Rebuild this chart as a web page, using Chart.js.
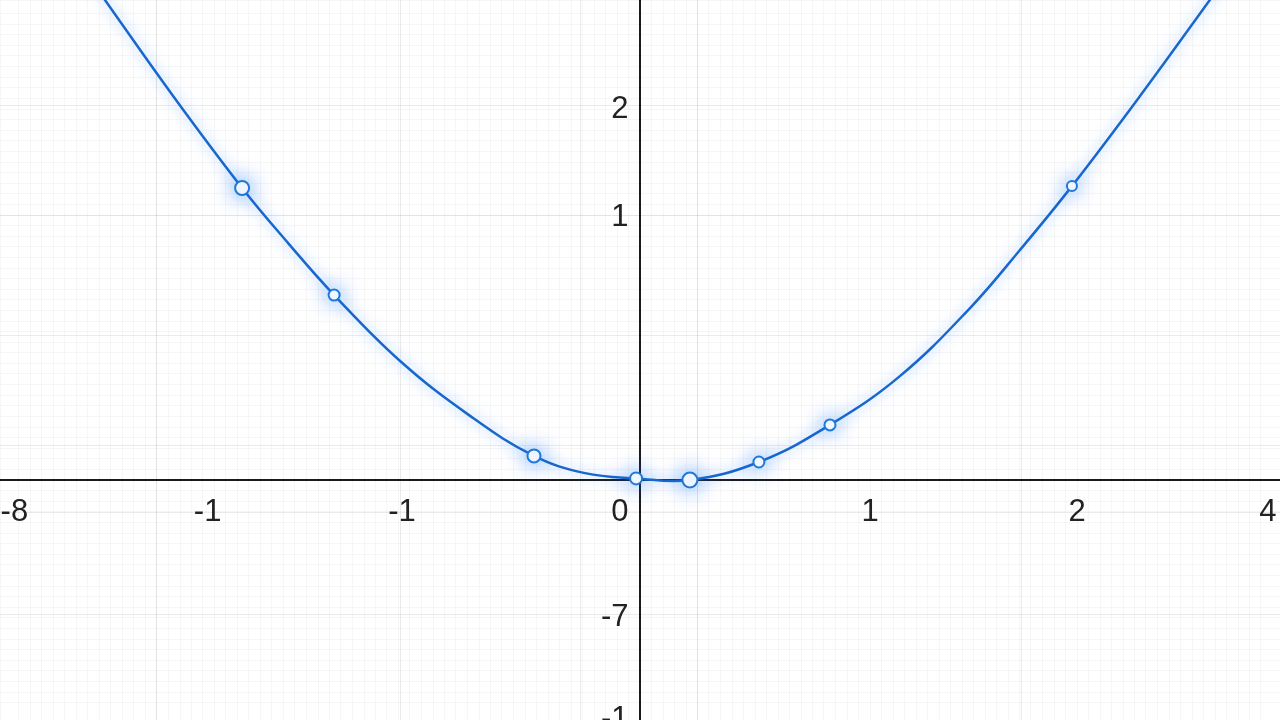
<!DOCTYPE html>
<html>
<head>
<meta charset="utf-8">
<script src="https://cdn.jsdelivr.net/npm/chart.js@4.4.1/dist/chart.umd.min.js"></script>
<style>
  html, body { margin: 0; padding: 0; background: #fff; }
  #wrap { width: 1280px; height: 720px; position: relative; }
</style>
</head>
<body>
<div id="wrap"><canvas id="graph"></canvas></div>
<script>
// curve (x: 230px per unit, y: 265px per unit, origin at the axes)
const curveX = [-2.357, -2.03, -1.73, -1.53, -1.33, -1.043, -0.739, -0.461, -0.239, -0.017, 0.217, 0.517, 0.826, 1.13, 1.435, 1.652, 1.878, 2.174, 2.509];
const curveY = [1.849, 1.449, 1.102, 0.894, 0.698, 0.449, 0.242, 0.091, 0.026, 0.006, 0.0, 0.068, 0.208, 0.392, 0.649, 0.868, 1.109, 1.449, 1.849];

// highlighted points on the curve
const pointX = [-1.73, -1.33, -0.461, -0.017, 0.217, 0.517, 0.826, 1.878];
const pointY = [1.102, 0.698, 0.091, 0.006, 0.0, 0.068, 0.208, 1.109];
const pointSize = [7, 5.5, 6.5, 6, 7.5, 5.5, 5.5, 5];

// axis labels as printed on the picture
const xTickVals = [-2.72, -1.88, -1.035, -0.087, 1, 1.9, 2.73];
const xTickLabels = ['-8', '-1', '-1', '0', '1', '2', '4'];
const yTickVals = [1.40, 0.992, -0.517, -0.905];
const yTickLabels = ['2', '1', '-7', '-1'];

// heavier grid lines (0 = the axes themselves)
const xGridVals = [-2.1, -1.04, -0.26, 0, 0.25, 1.66];
const yGridVals = [1.415, 1.0, 0.547, 0.132, 0, -0.123, -0.509];

const X_MIN = -640 / 230, X_MAX = 640 / 230;
const Y_MIN = -240 / 265, Y_MAX = 480 / 265;

const labelFont = { family: '"Liberation Sans", Arial, sans-serif', size: 31 };

function noSpace(scale) {
    if (scale.isHorizontal()) scale.height = 0; else scale.width = 0;
    scale.paddingLeft = scale.paddingRight = scale.paddingTop = scale.paddingBottom = 0;
}

const axisColor = (c) => c.tick && c.tick.value === 0 ? '#1a1a1a' : 'rgba(0,0,0,0.08)';
const axisWidth = (c) => c.tick && c.tick.value === 0 ? 2 : 1;

// soft blue halo around the curve and its points
const glow = {
    id: 'glow',
    beforeDatasetDraw(chart, args) {
        const ctx = chart.ctx;
        ctx.save();
        ctx.shadowColor = args.index === 0 ? 'rgba(30, 120, 255, 0.8)' : 'rgba(40, 130, 255, 0.55)';
        ctx.shadowBlur = args.index === 0 ? 22 : 14;
    },
    afterDatasetDraw(chart) {
        chart.ctx.restore();
    }
};

const ctx = document.getElementById('graph').getContext('2d');

new Chart(ctx, {
    type: 'line',
    data: {
        datasets: [
            {
                label: 'points',
                data: pointX.map((x, i) => ({ x: x, y: pointY[i] })),
                showLine: false,
                pointRadius: pointSize,
                pointBackgroundColor: '#ffffff',
                pointBorderColor: '#1f78d8',
                pointBorderWidth: 2
            },
            {
                label: 'curve',
                data: curveX.map((x, i) => ({ x: x, y: curveY[i] })),
                borderColor: '#1767cc',
                borderWidth: 2.5,
                tension: 0.4,
                pointRadius: 0,
                fill: false
            }
        ]
    },
    options: {
        responsive: true,
        maintainAspectRatio: false,
        animation: false,
        layout: { padding: 0, autoPadding: false },
        plugins: {
            legend: { display: false },
            tooltip: { enabled: false }
        },
        scales: {
            xm: {
                type: 'linear', min: X_MIN, max: X_MAX, position: 'bottom',
                ticks: { display: false, stepSize: 0.05 },
                grid: { color: 'rgba(0,0,0,0.035)', lineWidth: 1, drawTicks: false },
                border: { display: false },
                afterFit: noSpace
            },
            ym: {
                type: 'linear', min: Y_MIN, max: Y_MAX, position: 'left',
                ticks: { display: false, stepSize: 0.04 },
                grid: { color: 'rgba(0,0,0,0.035)', lineWidth: 1, drawTicks: false },
                border: { display: false },
                afterFit: noSpace
            },
            xg: {
                type: 'linear', min: X_MIN, max: X_MAX, position: 'bottom',
                afterBuildTicks: (scale) => { scale.ticks = xGridVals.map(v => ({ value: v })); },
                ticks: { display: false },
                grid: { color: axisColor, lineWidth: axisWidth, drawTicks: false },
                border: { display: false },
                afterFit: noSpace
            },
            yg: {
                type: 'linear', min: Y_MIN, max: Y_MAX, position: 'left',
                afterBuildTicks: (scale) => { scale.ticks = yGridVals.map(v => ({ value: v })); },
                ticks: { display: false },
                grid: { color: axisColor, lineWidth: axisWidth, drawTicks: false },
                border: { display: false },
                afterFit: noSpace
            },
            x: {
                type: 'linear', min: X_MIN, max: X_MAX,
                position: { y: 0 },
                afterBuildTicks: (scale) => { scale.ticks = xTickVals.map(v => ({ value: v })); },
                ticks: {
                    autoSkip: false, maxRotation: 0, padding: 14,
                    color: '#222', font: labelFont,
                    callback: (v, i) => xTickLabels[i]
                },
                grid: { display: false, drawTicks: false },
                border: { display: false },
                afterFit: noSpace
            },
            y: {
                type: 'linear', min: Y_MIN, max: Y_MAX,
                // labels sit just left of the y axis
                position: { x: -0.05 },
                afterBuildTicks: (scale) => { scale.ticks = yTickVals.map(v => ({ value: v })); },
                ticks: {
                    autoSkip: false,
                    color: '#222', font: labelFont,
                    callback: (v, i) => yTickLabels[i]
                },
                grid: { display: false, drawTicks: false },
                border: { display: false },
                afterFit: noSpace
            }
        }
    },
    plugins: [glow]
});
</script>
</body>
</html>
